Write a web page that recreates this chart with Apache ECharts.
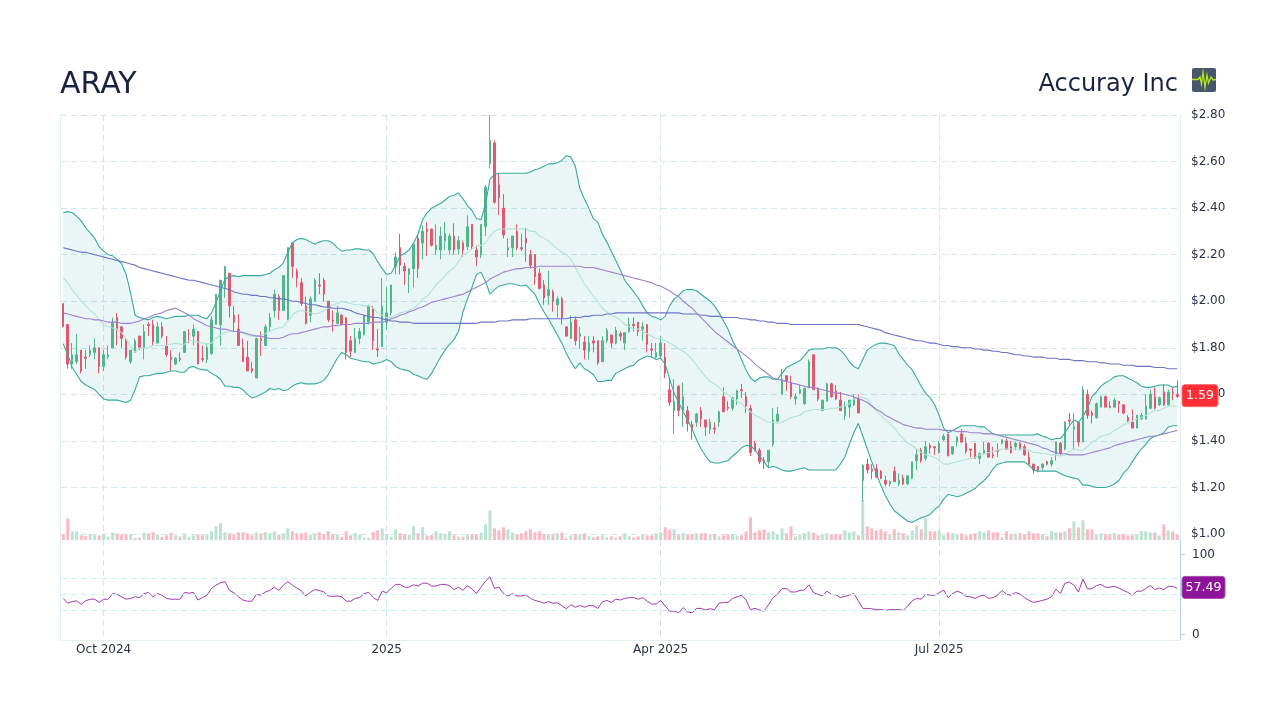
<!DOCTYPE html>
<html><head><meta charset="utf-8">
<style>html,body{margin:0;padding:0;background:#fff}#c{width:1280px;height:720px}</style>
<script src="https://cdn.jsdelivr.net/npm/echarts@6/dist/echarts.min.js"></script>
</head><body><div id="c"></div>
<script>
const monthDays = [
['2024-09',[18,19,20,23,24,25,26,27,30]],
['2024-10',[1,2,3,4,7,8,9,10,11,14,15,16,17,18,21,22,23,24,25,28,29,30,31]],
['2024-11',[1,4,5,6,7,8,11,12,13,14,15,18,19,20,21,22,25,26,27,29]],
['2024-12',[2,3,4,5,6,9,10,11,12,13,16,17,18,19,20,23,24,26,27,30,31]],
['2025-01',[2,3,6,7,8,10,13,14,15,16,17,21,22,23,24,27,28,29,30,31]],
['2025-02',[3,4,5,6,7,10,11,12,13,14,18,19,20,21,24,25,26,27,28]],
['2025-03',[3,4,5,6,7,10,11,12,13,14,17,18,19,20,21,24,25,26,27,28,31]],
['2025-04',[1,2,3,4,7,8,9,10,11,14,15,16,17,21,22,23,24,25,28,29,30]],
['2025-05',[1,2,5,6,7,8,9,12,13,14,15,16,19,20,21,22,23,27,28,29,30]],
['2025-06',[2,3,4,5,6,9,10,11,12,13,16,17,18,20,23,24,25,26,27,30]],
['2025-07',[1,2,3,7,8,9,10,11,14,15,16,17,18,21,22,23,24,25,28,29,30,31]],
['2025-08',[1,4,5,6,7,8,11,12,13,14,15,18,19,20,21,22,25,26,27,28,29]],
['2025-09',[2,3,4,5,8,9,10,11,12,15,16]]];
const categories = monthDays.flatMap(([m,ds])=>ds.map(d=>m+'-'+String(d).padStart(2,'0')));
const tickLabels = {'2024-10-01':'Oct 2024','2024-12-31':'2025','2025-04-01':'Apr 2025','2025-07-01':'Jul 2025'};
const priceTicks = {min:1,max:2.8,step:0.2};
const rsiLevels = [70,50,30];
const rsiTicks = [0,100];

const opens = [
1.99,1.90,1.73,1.74,1.79,1.76,1.77,1.78,1.80,1.72,
1.76,1.80,1.93,1.89,1.83,1.74,1.78,1.85,1.80,1.90,
1.90,1.82,1.89,1.81,1.76,1.73,1.755,1.78,1.86,1.85,
1.87,1.755,1.75,1.775,1.90,1.90,2.06,2.12,1.94,1.88,
1.80,1.76,1.71,1.67,1.84,1.81,1.89,1.96,2.02,1.96,
1.92,2.25,2.13,2.08,1.98,1.94,2.00,2.07,2.09,2.00,
1.92,1.905,1.94,1.93,1.83,1.78,1.84,1.855,1.91,1.97,
1.795,1.805,1.91,1.95,2.15,2.23,2.15,2.115,2.14,2.27,
2.25,2.31,2.31,2.22,2.22,2.26,2.22,2.28,2.225,2.25,
2.235,2.33,2.22,2.20,2.32,2.59,2.68,2.50,2.40,2.22,
2.23,2.30,2.23,2.27,2.20,2.20,2.12,2.07,2.025,2.04,
1.985,2.01,1.89,1.84,1.92,1.85,1.825,1.785,1.83,1.83,
1.74,1.83,1.855,1.82,1.86,1.82,1.87,1.90,1.91,1.88,
1.90,1.795,1.76,1.765,1.76,1.62,1.53,1.635,1.53,1.53,
1.47,1.48,1.53,1.49,1.45,1.455,1.48,1.59,1.545,1.54,
1.58,1.62,1.59,1.54,1.39,1.36,1.315,1.31,1.385,1.485,
1.60,1.68,1.65,1.58,1.605,1.56,1.63,1.77,1.62,1.53,
1.57,1.645,1.615,1.575,1.51,1.545,1.555,1.58,1.23,1.30,
1.28,1.28,1.27,1.23,1.215,1.27,1.215,1.24,1.215,1.24,
1.315,1.36,1.325,1.38,1.375,1.35,1.405,1.43,1.345,1.395,
1.43,1.39,1.365,1.39,1.325,1.345,1.39,1.34,1.36,1.39,
1.40,1.375,1.375,1.39,1.375,1.33,1.30,1.29,1.285,1.31,
1.30,1.34,1.39,1.365,1.49,1.45,1.48,1.395,1.60,1.52,
1.50,1.545,1.59,1.55,1.545,1.57,1.555,1.50,1.48,1.455,
1.495,1.495,1.54,1.59,1.555,1.61,1.555,1.61,1.60];
const closes = [
1.89,1.73,1.77,1.77,1.70,1.755,1.79,1.80,1.72,1.77,
1.77,1.91,1.88,1.84,1.76,1.79,1.83,1.80,1.87,1.895,
1.825,1.89,1.85,1.77,1.75,1.755,1.75,1.87,1.86,1.88,
1.73,1.75,1.80,1.92,2.03,2.09,2.15,1.98,1.91,1.81,
1.74,1.70,1.70,1.84,1.83,1.89,1.93,2.03,1.96,2.11,
2.23,2.15,2.10,1.99,1.905,2.01,2.09,2.065,2.03,1.92,
1.915,1.95,1.90,1.78,1.785,1.84,1.87,1.94,1.98,1.83,
1.79,1.98,1.95,2.07,2.19,2.155,2.13,2.14,2.245,2.14,
2.30,2.30,2.24,2.24,2.28,2.29,2.28,2.22,2.26,2.22,
2.32,2.235,2.19,2.33,2.49,2.69,2.425,2.445,2.285,2.23,
2.28,2.23,2.225,2.25,2.155,2.105,2.055,2.015,2.05,2.00,
2.01,1.93,1.85,1.91,1.83,1.86,1.79,1.82,1.82,1.735,
1.83,1.875,1.82,1.875,1.85,1.865,1.90,1.895,1.87,1.89,
1.815,1.79,1.78,1.82,1.69,1.565,1.57,1.53,1.59,1.475,
1.45,1.515,1.495,1.46,1.48,1.45,1.525,1.525,1.54,1.585,
1.615,1.615,1.55,1.35,1.36,1.31,1.305,1.36,1.49,1.515,
1.665,1.655,1.59,1.59,1.62,1.625,1.74,1.62,1.58,1.575,
1.645,1.59,1.58,1.53,1.55,1.575,1.585,1.52,1.295,1.275,
1.27,1.245,1.24,1.215,1.225,1.225,1.23,1.215,1.25,1.31,
1.34,1.315,1.375,1.37,1.37,1.39,1.42,1.335,1.375,1.415,
1.395,1.355,1.36,1.325,1.345,1.36,1.33,1.335,1.355,1.405,
1.365,1.35,1.39,1.365,1.34,1.30,1.275,1.275,1.30,1.30,
1.315,1.395,1.345,1.48,1.485,1.46,1.395,1.62,1.51,1.51,
1.56,1.59,1.545,1.545,1.575,1.56,1.52,1.485,1.455,1.51,
1.51,1.55,1.60,1.54,1.585,1.555,1.61,1.605,1.59];
const lows = [
1.89,1.71,1.71,1.73,1.69,1.71,1.76,1.75,1.69,1.70,
1.75,1.80,1.81,1.80,1.75,1.73,1.78,1.79,1.75,1.85,
1.81,1.82,1.84,1.76,1.70,1.725,1.74,1.78,1.82,1.81,
1.73,1.74,1.735,1.77,1.90,1.81,2.015,1.93,1.87,1.81,
1.74,1.70,1.69,1.67,1.765,1.81,1.87,1.93,1.92,1.96,
1.92,2.10,2.06,1.98,1.90,1.91,2.00,2.03,2.00,1.91,
1.87,1.90,1.895,1.75,1.76,1.78,1.815,1.855,1.90,1.79,
1.76,1.805,1.88,1.94,2.115,2.115,2.07,2.035,2.06,2.10,
2.18,2.195,2.235,2.20,2.18,2.22,2.20,2.20,2.20,2.19,
2.22,2.22,2.15,2.185,2.28,2.57,2.42,2.37,2.27,2.19,
2.19,2.22,2.215,2.17,2.14,2.07,2.05,1.985,1.985,1.955,
1.93,1.90,1.85,1.84,1.81,1.795,1.75,1.75,1.78,1.725,
1.74,1.82,1.80,1.815,1.83,1.79,1.865,1.87,1.85,1.83,
1.78,1.76,1.755,1.755,1.67,1.55,1.43,1.505,1.46,1.44,
1.405,1.46,1.46,1.42,1.43,1.43,1.46,1.525,1.53,1.53,
1.555,1.585,1.52,1.335,1.355,1.30,1.28,1.285,1.375,1.48,
1.60,1.615,1.58,1.555,1.60,1.555,1.625,1.62,1.57,1.53,
1.57,1.585,1.575,1.53,1.49,1.50,1.55,1.52,1.14,1.26,
1.235,1.24,1.235,1.205,1.205,1.225,1.205,1.21,1.21,1.235,
1.275,1.305,1.315,1.345,1.34,1.345,1.40,1.335,1.34,1.375,
1.39,1.345,1.33,1.325,1.30,1.34,1.33,1.325,1.33,1.385,
1.36,1.345,1.36,1.36,1.335,1.30,1.26,1.265,1.275,1.295,
1.29,1.315,1.34,1.36,1.47,1.365,1.375,1.395,1.495,1.475,
1.495,1.545,1.545,1.54,1.545,1.52,1.515,1.48,1.455,1.455,
1.49,1.49,1.535,1.535,1.55,1.55,1.55,1.575,1.585];
const highs = [
1.99,1.90,1.82,1.86,1.79,1.79,1.81,1.84,1.80,1.79,
1.81,1.93,1.95,1.89,1.84,1.79,1.84,1.85,1.90,1.91,
1.92,1.91,1.91,1.85,1.79,1.76,1.78,1.87,1.88,1.90,
1.87,1.81,1.82,1.935,2.03,2.09,2.15,2.12,1.98,1.945,
1.84,1.83,1.74,1.84,1.87,1.90,1.95,2.05,2.03,2.11,
2.23,2.25,2.14,2.10,2.02,2.02,2.10,2.12,2.10,2.00,
1.96,1.98,1.945,1.93,1.85,1.885,1.885,1.94,1.985,1.98,
1.88,2.10,2.06,2.07,2.21,2.29,2.165,2.14,2.25,2.285,
2.325,2.34,2.31,2.33,2.32,2.34,2.29,2.335,2.28,2.26,
2.37,2.33,2.24,2.33,2.50,2.80,2.69,2.55,2.46,2.27,
2.28,2.33,2.29,2.315,2.22,2.20,2.14,2.09,2.13,2.05,
2.02,2.02,1.89,1.94,1.935,1.89,1.85,1.85,1.85,1.83,
1.85,1.885,1.855,1.89,1.87,1.865,1.93,1.93,1.91,1.91,
1.90,1.82,1.82,1.85,1.82,1.665,1.665,1.64,1.65,1.55,
1.485,1.52,1.545,1.49,1.495,1.48,1.53,1.63,1.57,1.59,
1.62,1.645,1.61,1.555,1.40,1.37,1.33,1.36,1.54,1.545,
1.71,1.68,1.68,1.605,1.64,1.63,1.75,1.77,1.63,1.575,
1.65,1.65,1.64,1.61,1.57,1.575,1.60,1.60,1.30,1.325,
1.30,1.30,1.275,1.25,1.23,1.29,1.26,1.255,1.25,1.31,
1.365,1.37,1.40,1.39,1.375,1.40,1.43,1.43,1.375,1.42,
1.45,1.415,1.365,1.39,1.35,1.395,1.395,1.375,1.39,1.405,
1.41,1.40,1.395,1.395,1.385,1.355,1.30,1.29,1.305,1.315,
1.33,1.395,1.395,1.485,1.52,1.52,1.48,1.635,1.62,1.53,
1.565,1.595,1.595,1.57,1.585,1.57,1.555,1.51,1.535,1.51,
1.52,1.60,1.62,1.63,1.59,1.645,1.62,1.63,1.66];
const volumes = [
17,65,26,26,14,12,17,14,14,17,
10,23,20,16,17,17,7,7,22,20,
23,16,10,14,22,14,10,20,10,14,
16,14,16,26,41,50,23,20,16,23,
23,20,14,23,20,23,20,26,16,20,
35,26,20,20,23,16,20,23,17,26,
17,16,10,26,14,20,17,7,7,23,
29,35,17,10,32,20,16,16,41,20,
38,14,14,26,20,16,26,14,10,10,
17,17,17,23,47,89,35,29,38,32,
23,17,20,26,32,23,26,17,17,17,
20,23,5,14,17,17,20,11,8,11,
14,8,11,7,11,20,11,8,11,16,
14,14,20,23,38,32,32,17,20,17,
17,20,20,20,17,17,11,14,17,17,
13,14,26,68,23,29,32,23,26,17,
35,20,41,11,16,20,26,22,14,17,
20,17,17,17,29,23,26,14,120,41,
35,29,32,26,17,32,23,20,14,29,
44,32,65,26,26,29,14,23,20,17,
20,14,17,20,26,23,29,23,23,8,
26,17,17,20,17,26,20,20,17,11,
26,23,23,26,35,56,38,59,32,32,
17,20,17,17,20,17,17,14,14,17,
26,26,23,23,14,47,29,26,17];
const bbUpper = [
2.38,2.385,2.38,2.365,2.345,2.315,2.295,2.27,2.235,2.215,
2.20,2.195,2.18,2.16,2.115,2.035,1.94,1.93,1.925,1.92,
1.93,1.935,1.93,1.925,1.93,1.935,1.935,1.935,1.94,1.94,
1.94,1.93,1.925,1.95,1.995,2.045,2.095,2.105,2.11,2.105,
2.11,2.11,2.11,2.11,2.11,2.115,2.12,2.135,2.145,2.165,
2.21,2.25,2.265,2.27,2.265,2.255,2.245,2.255,2.26,2.26,
2.25,2.23,2.215,2.22,2.22,2.225,2.225,2.22,2.22,2.205,
2.17,2.14,2.115,2.12,2.155,2.195,2.205,2.22,2.25,2.29,
2.35,2.38,2.40,2.41,2.42,2.435,2.45,2.455,2.465,2.44,
2.41,2.39,2.355,2.35,2.415,2.525,2.545,2.55,2.55,2.55,
2.55,2.55,2.55,2.55,2.555,2.565,2.57,2.58,2.59,2.59,
2.595,2.605,2.625,2.62,2.58,2.485,2.44,2.40,2.355,2.34,
2.29,2.255,2.215,2.175,2.135,2.09,2.065,2.04,2.015,1.98,
1.95,1.935,1.93,1.92,1.935,1.98,2.01,2.025,2.045,2.05,
2.05,2.045,2.03,2.015,2.00,1.98,1.95,1.915,1.88,1.83,
1.795,1.75,1.705,1.67,1.655,1.67,1.675,1.675,1.665,1.665,
1.69,1.715,1.725,1.735,1.745,1.765,1.79,1.795,1.795,1.795,
1.80,1.80,1.80,1.79,1.77,1.74,1.72,1.71,1.75,1.79,
1.805,1.815,1.82,1.82,1.815,1.81,1.775,1.75,1.725,1.705,
1.67,1.635,1.605,1.585,1.555,1.51,1.455,1.435,1.445,1.455,
1.465,1.465,1.465,1.465,1.46,1.46,1.445,1.43,1.425,1.425,
1.425,1.425,1.425,1.425,1.425,1.425,1.425,1.43,1.42,1.415,
1.405,1.41,1.41,1.435,1.465,1.49,1.48,1.505,1.54,1.59,
1.61,1.635,1.65,1.66,1.675,1.68,1.68,1.67,1.66,1.65,
1.635,1.63,1.63,1.635,1.64,1.64,1.64,1.63,1.635];
const bbMiddle = [
2.10,2.08,2.05,2.025,2.00,1.98,1.96,1.945,1.92,1.90,
1.89,1.885,1.88,1.865,1.84,1.805,1.78,1.80,1.80,1.80,
1.81,1.81,1.81,1.81,1.815,1.82,1.815,1.815,1.83,1.83,
1.825,1.82,1.815,1.82,1.84,1.855,1.865,1.87,1.87,1.87,
1.865,1.855,1.85,1.85,1.855,1.86,1.87,1.88,1.885,1.89,
1.915,1.94,1.955,1.96,1.955,1.95,1.945,1.95,1.96,1.97,
1.985,1.99,2.00,1.995,1.99,1.985,1.985,1.98,1.98,1.97,
1.95,1.94,1.93,1.93,1.94,1.95,1.955,1.96,1.97,1.985,
2.01,2.02,2.045,2.07,2.09,2.11,2.13,2.145,2.17,2.20,
2.21,2.225,2.235,2.24,2.25,2.28,2.30,2.31,2.31,2.31,
2.31,2.31,2.31,2.31,2.30,2.30,2.28,2.27,2.26,2.24,
2.225,2.21,2.20,2.18,2.145,2.11,2.075,2.05,2.02,2.00,
1.97,1.955,1.94,1.93,1.92,1.90,1.89,1.88,1.88,1.87,
1.86,1.85,1.84,1.84,1.83,1.82,1.81,1.795,1.785,1.77,
1.75,1.725,1.70,1.675,1.655,1.645,1.63,1.61,1.60,1.58,
1.57,1.56,1.54,1.525,1.51,1.50,1.49,1.48,1.48,1.475,
1.48,1.49,1.50,1.505,1.51,1.525,1.53,1.535,1.535,1.535,
1.535,1.54,1.54,1.545,1.55,1.56,1.58,1.59,1.585,1.58,
1.555,1.53,1.51,1.49,1.475,1.455,1.43,1.41,1.39,1.38,
1.365,1.35,1.34,1.335,1.33,1.315,1.30,1.30,1.305,1.31,
1.315,1.32,1.325,1.33,1.34,1.345,1.35,1.355,1.36,1.365,
1.365,1.365,1.365,1.365,1.365,1.36,1.35,1.35,1.345,1.345,
1.34,1.34,1.335,1.34,1.355,1.365,1.36,1.36,1.375,1.395,
1.405,1.42,1.425,1.43,1.445,1.455,1.47,1.475,1.485,1.495,
1.50,1.51,1.52,1.53,1.53,1.54,1.55,1.55,1.55];
const bbLower = [
1.817,1.77,1.715,1.685,1.655,1.64,1.63,1.62,1.60,1.58,
1.575,1.575,1.575,1.57,1.565,1.575,1.62,1.675,1.68,1.68,
1.685,1.69,1.69,1.695,1.70,1.70,1.695,1.695,1.715,1.72,
1.71,1.705,1.705,1.69,1.68,1.665,1.635,1.635,1.63,1.63,
1.62,1.60,1.585,1.59,1.60,1.61,1.625,1.62,1.625,1.615,
1.62,1.635,1.645,1.65,1.645,1.645,1.645,1.65,1.66,1.685,
1.72,1.755,1.78,1.77,1.755,1.75,1.745,1.74,1.74,1.73,
1.735,1.74,1.75,1.74,1.72,1.71,1.705,1.70,1.685,1.68,
1.67,1.665,1.69,1.725,1.76,1.79,1.815,1.835,1.87,1.955,
2.01,2.06,2.115,2.125,2.085,2.03,2.05,2.065,2.07,2.075,
2.075,2.07,2.065,2.07,2.05,2.03,1.99,1.955,1.925,1.89,
1.855,1.82,1.775,1.74,1.71,1.735,1.71,1.70,1.685,1.655,
1.655,1.66,1.66,1.69,1.70,1.71,1.72,1.725,1.745,1.755,
1.765,1.76,1.75,1.755,1.73,1.665,1.605,1.565,1.525,1.49,
1.45,1.405,1.365,1.335,1.31,1.305,1.305,1.31,1.315,1.335,
1.35,1.37,1.38,1.38,1.36,1.335,1.31,1.285,1.29,1.285,
1.275,1.27,1.27,1.275,1.28,1.285,1.275,1.275,1.275,1.275,
1.275,1.275,1.275,1.30,1.33,1.385,1.435,1.475,1.42,1.365,
1.31,1.26,1.21,1.165,1.13,1.10,1.085,1.07,1.055,1.05,
1.06,1.07,1.075,1.085,1.105,1.12,1.15,1.17,1.165,1.16,
1.165,1.175,1.185,1.195,1.215,1.23,1.25,1.28,1.30,1.305,
1.31,1.31,1.31,1.31,1.31,1.295,1.275,1.27,1.27,1.27,
1.27,1.27,1.26,1.25,1.245,1.24,1.235,1.21,1.21,1.205,
1.20,1.20,1.20,1.205,1.215,1.23,1.26,1.28,1.31,1.34,
1.365,1.385,1.41,1.42,1.425,1.435,1.46,1.465,1.465];
const maSlow = [
2.23,2.225,2.22,2.215,2.21,2.21,2.205,2.20,2.195,2.19,
2.185,2.18,2.175,2.17,2.165,2.16,2.155,2.145,2.14,2.135,
2.13,2.125,2.12,2.115,2.11,2.105,2.10,2.095,2.09,2.09,
2.085,2.08,2.075,2.07,2.065,2.06,2.055,2.05,2.04,2.035,
2.03,2.03,2.025,2.025,2.02,2.02,2.015,2.015,2.01,2.01,
2.005,2.00,2.00,1.995,1.99,1.985,1.985,1.98,1.975,1.975,
1.97,1.97,1.97,1.965,1.96,1.95,1.945,1.94,1.935,1.93,
1.93,1.925,1.92,1.915,1.915,1.91,1.91,1.91,1.905,1.905,
1.905,1.905,1.905,1.905,1.905,1.905,1.905,1.905,1.905,1.905,
1.905,1.905,1.905,1.91,1.91,1.91,1.91,1.915,1.915,1.915,
1.92,1.92,1.92,1.92,1.925,1.925,1.925,1.925,1.925,1.925,
1.925,1.925,1.925,1.93,1.93,1.93,1.935,1.935,1.94,1.94,
1.94,1.945,1.945,1.95,1.95,1.95,1.95,1.95,1.95,1.95,
1.95,1.95,1.95,1.95,1.95,1.95,1.95,1.95,1.945,1.945,
1.945,1.945,1.94,1.94,1.935,1.935,1.935,1.93,1.93,1.93,
1.93,1.925,1.925,1.92,1.92,1.915,1.915,1.91,1.91,1.905,
1.905,1.905,1.90,1.90,1.90,1.90,1.90,1.90,1.90,1.90,
1.90,1.90,1.90,1.90,1.90,1.90,1.90,1.90,1.895,1.89,
1.885,1.88,1.875,1.865,1.86,1.855,1.85,1.845,1.84,1.835,
1.83,1.83,1.825,1.82,1.82,1.815,1.81,1.81,1.805,1.805,
1.80,1.80,1.80,1.795,1.795,1.79,1.79,1.785,1.785,1.78,
1.78,1.775,1.77,1.77,1.765,1.765,1.76,1.76,1.76,1.755,
1.755,1.755,1.75,1.75,1.75,1.745,1.745,1.745,1.74,1.74,
1.74,1.735,1.735,1.73,1.73,1.73,1.725,1.725,1.725,1.72,
1.72,1.72,1.72,1.715,1.715,1.715,1.71,1.71,1.71];
const maFast = [
1.95,1.945,1.94,1.935,1.93,1.925,1.925,1.92,1.92,1.915,
1.91,1.91,1.91,1.905,1.905,1.905,1.91,1.915,1.925,1.93,
1.94,1.945,1.95,1.96,1.965,1.97,1.96,1.95,1.94,1.925,
1.915,1.905,1.895,1.89,1.885,1.88,1.88,1.875,1.87,1.87,
1.865,1.86,1.855,1.85,1.85,1.845,1.84,1.84,1.84,1.845,
1.855,1.86,1.86,1.865,1.87,1.875,1.88,1.885,1.89,1.89,
1.895,1.895,1.90,1.90,1.90,1.905,1.905,1.905,1.905,1.91,
1.91,1.91,1.915,1.925,1.93,1.94,1.945,1.955,1.96,1.97,
1.975,1.985,1.995,2.00,2.005,2.01,2.015,2.02,2.025,2.03,
2.04,2.05,2.06,2.07,2.08,2.095,2.105,2.115,2.125,2.13,
2.135,2.14,2.14,2.145,2.145,2.145,2.15,2.15,2.15,2.15,
2.15,2.15,2.15,2.15,2.15,2.15,2.145,2.145,2.145,2.14,
2.135,2.13,2.125,2.12,2.115,2.11,2.105,2.10,2.095,2.09,
2.085,2.08,2.07,2.065,2.055,2.045,2.03,2.02,2.00,1.985,
1.97,1.95,1.93,1.91,1.89,1.87,1.855,1.84,1.825,1.81,
1.795,1.78,1.765,1.75,1.73,1.715,1.70,1.685,1.67,1.665,
1.66,1.655,1.65,1.645,1.64,1.635,1.63,1.63,1.625,1.62,
1.615,1.61,1.605,1.605,1.60,1.595,1.59,1.58,1.575,1.565,
1.55,1.535,1.525,1.51,1.50,1.49,1.48,1.47,1.465,1.46,
1.455,1.455,1.45,1.45,1.45,1.45,1.445,1.445,1.445,1.44,
1.44,1.44,1.435,1.435,1.435,1.43,1.43,1.43,1.425,1.42,
1.415,1.41,1.405,1.40,1.395,1.39,1.385,1.38,1.37,1.365,
1.355,1.35,1.345,1.345,1.34,1.34,1.34,1.34,1.345,1.35,
1.355,1.36,1.365,1.37,1.38,1.385,1.39,1.395,1.40,1.405,
1.41,1.415,1.42,1.42,1.425,1.43,1.435,1.44,1.445];
const rsi = [
45,39,41,42,37.5,42,44,44,40,44,
44,51,50,47,44,45,47,46,51,52.5,
47,51,49,45,44,44,44,52.5,51.5,52.5,
43,46,49,57.5,61.5,64.5,66,55,52,47,
43,41.5,41.5,50,49,53,55,59,55,61.5,
66,61.5,58,54.5,48,52.5,56,55,53,48,
47.5,48,47,41.5,41.5,45,46,51,52.5,46,
42.5,54,52,57.5,62.5,62.5,59,59,62,60.5,
64,64,60.5,60.5,62.5,62.5,61,56,59,55,
61,57,51,59,66.5,72,57.5,59,51,48,
51,48,48,49.5,45,42.5,41,39,41,39,
39.5,36,32,37,34,36,34,36,36,32.5,
40.5,42.5,40,44,43,45,46,46,44,46,
41.5,38,38,42.5,35.5,29,29,27,33.5,28,
27,32.5,32.5,30.5,32,31,39,40,40,45,
47,49,43,31,32.5,30.5,29,37,46,50,
57,57.5,53,53,55,55.5,62,52.5,50,48,
54,50,49.5,46,47.5,49,51,42,32.5,32.5,
32,31,31,30,31,31,31,30,35.5,42,
45,44,50,49,49,52,55.5,46,51,54,
52,47.5,47,45,48,49,45,46,49,55,
50,49,52.5,50.5,46,42.5,40,41,42.5,44,
47,56.5,51,64,65.5,61.5,53,69,57,57,
61,62.5,59,59,60,58,55,52.5,49,54,
54,57.5,61,56,58,56,60,60,57.49];

const C = {text:'#1c2340',axis:'#2b3146',grid:'#d3e5ea',edge:'#e3eff3',rsiEdge:'#b4d3db',rsiGrid:'#c6eefb',
 up:'#52b58c',down:'#e0596c',upV:'#bce3d1',downV:'#fbb9c2',band:'#3aaa9c',bandFill:'rgba(38,166,154,0.1)',
 mid:'#b4e2d8',slow:'#6c74c6',fast:'#9d83cf',rsi:'#a03ab0',badgeR:'#ff2d35',badgeP:'#8e1599'};
const FONT='"DejaVu Sans"';
const isTick = (i,v)=>tickLabels[categories[i]]!==undefined;
const vSplit = {show:true,alignWithLabel:true,interval:isTick,lineStyle:{color:C.grid,type:[6,4],width:1}};
const candleData = categories.map((_,i)=>[opens[i],closes[i],lows[i],highs[i]]);
const line = (name,data,color,w)=>({name,type:'line',data,xAxisIndex:0,yAxisIndex:0,symbol:'none',z:4,silent:true,
  lineStyle:{color,width:w}});
const GL=61, GW=1118.5;

const chart = echarts.init(document.getElementById('c'),null,{renderer:'canvas'});
const option = {
 animation:false,
 textStyle:{fontFamily:FONT},
 grid:[
  {left:GL,width:GW,top:115,height:419},
  {left:GL,width:GW,top:115,height:425},
  {left:GL,width:GW,top:540,height:100}],
 xAxis:[
  {type:'category',gridIndex:0,data:categories,show:false},
  {type:'category',gridIndex:1,data:categories,axisLine:{show:false},axisTick:{show:false},axisLabel:{show:false},splitLine:vSplit},
  {type:'category',gridIndex:2,data:categories,axisLine:{show:true,onZero:false,lineStyle:{color:C.edge}},axisTick:{show:false},
   splitLine:vSplit,
   axisLabel:{show:true,interval:isTick,color:C.axis,fontSize:12,margin:4,fontFamily:FONT,
     formatter:v=>tickLabels[v]||''}}],
 yAxis:[
  {type:'value',gridIndex:0,position:'right',min:priceTicks.min,max:priceTicks.max,interval:priceTicks.step,
   axisLine:{show:false},axisTick:{show:false},
   axisLabel:{color:C.axis,fontSize:12,margin:11.5,fontFamily:FONT,padding:[4,0,0,0],formatter:v=>'$'+v.toFixed(2)},
   splitLine:{show:true,lineStyle:{color:C.grid,type:[6,4],width:1}}},
  {type:'value',gridIndex:1,position:'left',offset:1,min:0,max:63750,axisLine:{show:true,lineStyle:{color:C.edge}},axisTick:{show:false},axisLabel:{show:false},splitLine:{show:false}},
  {type:'value',gridIndex:1,position:'right',offset:0.5,min:0,max:1,axisLine:{show:true,lineStyle:{color:C.edge}},axisTick:{show:false},axisLabel:{show:false},splitLine:{show:false}},
  {type:'value',gridIndex:2,position:'right',offset:0.5,min:-7,max:118,
   axisLine:{show:true,lineStyle:{color:C.rsiEdge}},
   axisTick:{show:true,length:5,customValues:rsiTicks,lineStyle:{color:C.rsiEdge}},
   axisLabel:{show:true,customValues:rsiTicks,color:C.axis,fontSize:12,margin:12,fontFamily:FONT},
   splitLine:{show:false}},
  {type:'value',gridIndex:2,position:'left',offset:1,min:0,max:1,axisLine:{show:true,lineStyle:{color:C.edge}},axisTick:{show:false},axisLabel:{show:false},splitLine:{show:false}}],
 series:[
  {name:'Band',type:'custom',xAxisIndex:0,yAxisIndex:0,data:[0],silent:true,z:1,clip:true,
   renderItem:(p,api)=>{
     const pts=[];
     categories.forEach((_,i)=>pts.push(api.coord([i,bbUpper[i]])));
     for(let i=categories.length-1;i>=0;i--)pts.push(api.coord([i,bbLower[i]]));
     return {type:'polygon',shape:{points:pts},style:{fill:C.bandFill,stroke:null}};
   }},
  line('BB upper',bbUpper,C.band,1.1),
  line('BB middle',bbMiddle,C.mid,1.1),
  line('BB lower',bbLower,C.band,1.1),
  {name:'Price',type:'candlestick',xAxisIndex:0,yAxisIndex:0,data:candleData,barWidth:2,z:3,silent:true,
   itemStyle:{color:C.up,color0:C.down,borderColor:C.up,borderColor0:C.down,borderWidth:1}},
  line('MA slow',maSlow,C.slow,1.1),
  line('MA fast',maFast,C.fast,1.1),
  {name:'Volume',type:'bar',xAxisIndex:1,yAxisIndex:1,barWidth:3,silent:true,z:2,
   data:volumes.map(v=>v*50),
   itemStyle:{color:p=>closes[p.dataIndex]>=opens[p.dataIndex]?C.upV:C.downV}},
  {name:'RSI',type:'line',xAxisIndex:2,yAxisIndex:3,data:rsi,symbol:'none',silent:true,z:4,
   lineStyle:{color:C.rsi,width:1},
   markLine:{silent:true,symbol:'none',label:{show:false},lineStyle:{color:C.rsiGrid,type:[6,4],width:1},
     data:rsiLevels.map(v=>({yAxis:v}))}}
 ],
 graphic:[
  {type:'text',left:60,top:70,style:{text:'ARAY',font:'30px "DejaVu Sans"',fill:C.text}},
  {type:'text',right:102,top:73,style:{text:'Accuray Inc',font:'24px "DejaVu Sans"',fill:C.text}},
  {type:'rect',shape:{x:1192,y:68,width:24,height:24,r:2},style:{fill:'#46586a'}},
  {type:'polyline',shape:{points:[[1192,79.5],[1198,79.5],[1200,77],[1201.5,84],[1203,72],[1205,87],[1207,75],[1208.5,83],[1211,77],[1213,80],[1216,79.5]]},style:{stroke:'#b7e61d',fill:null,lineWidth:1.3}}
 ]
};
chart.setOption(option);
const lastPrice=closes[closes.length-1], lastRsi=rsi[rsi.length-1];
const py=chart.convertToPixel({yAxisIndex:0},lastPrice), ry=chart.convertToPixel({yAxisIndex:3},lastRsi);
const badge=(x,y,w,fill,stroke,txt)=>[
 {type:'rect',z:100,shape:{x,y:y-12,width:w,height:22,r:3},style:{fill,stroke,lineWidth:1}},
 {type:'text',z:101,style:{x:x+w/2,y:y-1,text:txt,align:'center',verticalAlign:'middle',font:'12.5px "DejaVu Sans"',fill:'#fff'}}];
chart.setOption({graphic:option.graphic.concat(badge(1182,py,36,C.badgeR,'#ff6a70',lastPrice.toFixed(2)),badge(1182,ry,43,C.badgeP,'#a94bb2',lastRsi.toFixed(2)))});
</script></body></html>
